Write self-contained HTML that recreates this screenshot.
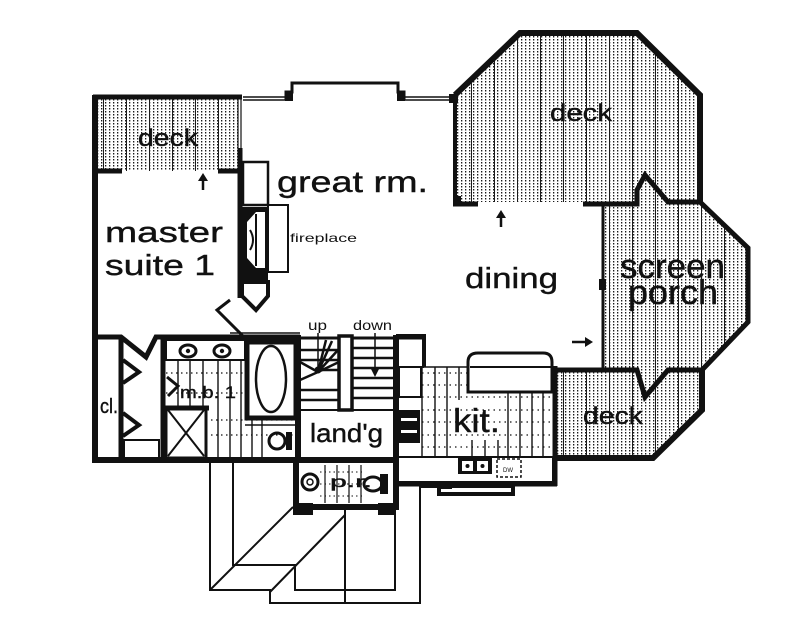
<!DOCTYPE html>
<html><head><meta charset="utf-8"><style>
html,body{margin:0;padding:0;background:#fff;}
svg{display:block;}
text{font-family:"Liberation Sans",sans-serif;fill:#111;}
.t{stroke:#111;stroke-width:0.4;}
</style></head><body>
<svg width="800" height="620" viewBox="0 0 800 620" xmlns="http://www.w3.org/2000/svg">
<defs>
<pattern id="h" width="4" height="3" patternUnits="userSpaceOnUse"><rect x="1" y="0" width="1.3" height="1.5" fill="#1a1a1a"/></pattern>
<pattern id="v" width="23" height="10" patternUnits="userSpaceOnUse"><rect x="11" y="0" width="1" height="10" fill="#1a1a1a"/></pattern>
</defs>
<rect width="800" height="620" fill="#fff"/>

<g>
<polygon points="95,97 240,97 240,171 95,171" fill="url(#h)"/>
<polygon points="95,97 240,97 240,171 95,171" fill="url(#v)"/>
<polygon points="455,95 520,33 637,33 700,95 700,202 668,202 645,175 637,190 637,202 455,202" fill="url(#h)"/>
<polygon points="455,95 520,33 637,33 700,95 700,202 668,202 645,175 637,190 637,202 455,202" fill="url(#v)"/>
<polygon points="603,202 637,202 637,190 645,175 668,202 700,202 748,248 748,322 702,370 668,370 645,397 637,370 603,370" fill="url(#h)"/>
<polygon points="603,202 637,202 637,190 645,175 668,202 700,202 748,248 748,322 702,370 668,370 645,397 637,370 603,370" fill="url(#v)"/>
<polygon points="555,370 637,370 645,397 668,370 702,370 702,410 653,458 555,458" fill="url(#h)"/>
<polygon points="555,370 637,370 645,397 668,370 702,370 702,410 653,458 555,458" fill="url(#v)"/>
</g>

<g stroke="#111" fill="none" stroke-linejoin="miter">
<path d="M93,97 H242" stroke-width="5"/>
<path d="M95,95 V463" stroke-width="6"/>
<path d="M238,97 V148 M241,97 V148" stroke-width="1.2"/>
<path d="M93,171 H122 M218,171 H243" stroke-width="5"/>
<path d="M240,148 V298" stroke-width="5"/>
<path d="M230,300 L217,310 L243,336" stroke-width="3"/>

<path d="M243,97 H286 M243,100 H286" stroke-width="1.4"/>
<path d="M286,100 V92 H292 V83 H398 V92 H404 V100" stroke-width="3"/>
<path d="M404,97 H450 M404,100 H450" stroke-width="1.4"/>
<path d="M455,95 V205" stroke-width="4"/>

<path d="M455,95 L520,33 H637 L700,95 V204" stroke-width="6"/>
<path d="M453,204 H478 M583,204 H605" stroke-width="5"/>

<path d="M603,204 H637 V190 L645,175 L668,202 H700 L748,248 V322 L702,370 H668 L645,397 L637,370 H553" stroke-width="5"/>
<path d="M603,204 V370" stroke-width="3"/>

<path d="M702,370 V410 L653,458 H553" stroke-width="6"/>
<path d="M555,366 V486" stroke-width="5"/>

<path d="M93,337 H121 L146,357 L156,337 H300" stroke-width="5"/>
<path d="M230,333 H300" stroke-width="1.5"/>

<path d="M163,337 V461" stroke-width="5"/>
<path d="M121,338 V459" stroke-width="5"/>
<path d="M123,360 L139,372 L123,383 M123,413 L139,425 L123,436" stroke-width="4"/>
<rect x="124" y="440" width="35" height="18" stroke-width="2"/>
<path d="M93,460 H300" stroke-width="6"/>
<path d="M178,360 V408 M190,360 V408 M203,360 V408 M218,360 V458 M230,360 V458 M241,360 V458 M252,418 V458 M262,418 V458" stroke-width="1.4"/>
<path d="M166,373 H245 M166,393 H245 M206,420 H297 M206,435 H297" stroke-width="1.2" stroke-dasharray="1.5 3.5"/>
<path d="M245,425 H297" stroke-width="1.5"/>
<rect x="166" y="340" width="79" height="20" stroke-width="2" fill="#fff"/>
<ellipse cx="188" cy="351" rx="8" ry="6" stroke-width="3"/>
<ellipse cx="222" cy="351" rx="8" ry="6" stroke-width="3"/>
<rect x="166" y="408" width="40" height="50" stroke-width="3" fill="#fff"/>
<path d="M161,408 H209" stroke-width="5"/>
<path d="M168,410 L204,456 M204,410 L168,456" stroke-width="2"/>
<path d="M167,377 L178,386 L168,396" stroke-width="3"/>
<rect x="247" y="342" width="49" height="76" stroke-width="5" fill="#fff"/>
<ellipse cx="271" cy="379" rx="15" ry="33" stroke-width="2.5"/>
<ellipse cx="277" cy="441" rx="8" ry="8" stroke-width="3"/>
<path d="M298,335 V508" stroke-width="6"/>

<rect x="243" y="162" width="25" height="43" stroke-width="2.5" fill="#fff"/>
<rect x="268" y="205" width="20" height="67" stroke-width="2" fill="#fff"/>
<polygon points="242,282 268,282 268,296 256,310 242,296" stroke-width="4" fill="#fff"/>

<path d="M298,338 H425" stroke-width="3"/>
<path d="M300,350 H339 M300,360 H339 M322,370 H339 M300,390 H339 M300,400 H339" stroke-width="2.5"/>
<path d="M352,348 H394 M352,358 H394 M352,368 H394 M352,378 H394 M352,388 H394 M352,398 H394" stroke-width="2.5"/>
<path d="M318,372 L300,362 M318,372 L300,380 M318,372 L338,350 M318,372 L332,341 M318,372 L326,340 M318,372 L339,362" stroke-width="2.5"/>
<path d="M318,333 V370" stroke-width="1.5"/>
<path d="M375,333 V374" stroke-width="1.5"/>
<path d="M298,410 H396" stroke-width="2"/>
<rect x="339" y="336" width="13" height="74" stroke-width="3.5" fill="#fff"/>
<path d="M396,335 V510" stroke-width="6"/>

<path d="M396,336 H424 V367" stroke-width="4"/>
<path d="M398,367 H424" stroke-width="2"/>
<rect x="399" y="367" width="22" height="30" stroke-width="2"/>
<path d="M422,367 V457 M422,367 H470" stroke-width="1.4"/>
<path d="M435,367 V457 M447,367 V457 M459,367 V400 M508,392 V457 M520,392 V457 M532,392 V457 M543,392 V457 M472,440 V457 M485,440 V457 M498,440 V457" stroke-width="1.4"/>
<path d="M422,373 H468 M422,385 H468 M422,397 H552 M422,410 H552 M422,422 H552 M422,435 H552 M422,447 H552" stroke-width="1.2" stroke-dasharray="1.5 4"/>
<path d="M468,392 V362 Q468,353 478,353 H543 Q552,353 552,362 V392 Z" stroke-width="3" fill="#fff"/>
<path d="M470,367 H552" stroke-width="2"/>
<rect x="397" y="457" width="156" height="25" stroke-width="2" fill="#fff"/>
<path d="M393,484 H557" stroke-width="5"/>
<rect x="497" y="459" width="24" height="18" stroke-width="1.5" stroke-dasharray="3 2"/>
<rect x="439" y="486" width="74" height="8" stroke-width="4" fill="#fff"/>

<rect x="296" y="460" width="100" height="47" stroke-width="6" fill="#fff"/>
<path d="M325,465 V503 M337,465 V503 M349,465 V503 M361,465 V503" stroke-width="1.2"/>
<path d="M320,472 H365 M320,484 H365 M320,496 H365" stroke-width="1" stroke-dasharray="1.5 3"/>
<circle cx="310" cy="482" r="8" stroke-width="3" fill="#fff"/>
<circle cx="310" cy="482" r="3" stroke-width="1.5"/>
<ellipse cx="373" cy="484" rx="9" ry="7" stroke-width="3" fill="#fff"/>

<path d="M210,460 V590 H270 V603 H420 V487 H440 M233,460 V565 H295 V590 H395 V507 M210,590 L293,507 M270,592 L345,515 M345,507 V603" stroke-width="2"/>
</g>

<g fill="#111">
<rect x="285" y="91" width="8" height="10"/>
<rect x="397" y="91" width="8" height="10"/>
<rect x="449" y="94" width="9" height="9"/>
<rect x="453" y="196" width="8" height="10"/>
<rect x="599" y="279" width="7" height="11"/>
<rect x="242" y="207" width="26" height="75"/>
<rect x="293" y="503" width="20" height="12"/>
<rect x="378" y="503" width="18" height="12"/>
<rect x="380" y="474" width="8" height="20"/>
<rect x="286" y="432" width="6" height="18"/>
<circle cx="188" cy="351" r="2.2"/>
<circle cx="222" cy="351" r="2.2"/>
<circle cx="318" cy="370" r="3.5"/>
<polygon points="371,369 379,369 375,377"/>
<rect x="398" y="410" width="22" height="33"/>
<rect x="458" y="458" width="34" height="16"/>
<rect x="438" y="483" width="14" height="6"/>
<polygon points="198,181 203,173 208,181"/>
<polygon points="496,218 501,210 506,218"/>
<polygon points="585,337 593,342 585,347"/>
</g>
<g fill="#fff">
<polygon points="247,222 256,212 265,212 265,268 256,268 247,258"/>
<rect x="401" y="418" width="16" height="3"/>
<rect x="401" y="430" width="16" height="3"/>
<rect x="462" y="461" width="11" height="10"/>
<rect x="477" y="461" width="11" height="10"/>
</g>
<path d="M250,230 Q256,240 250,250 M256,214 V266" stroke="#111" stroke-width="2" fill="none"/>
<g fill="#111">
<circle cx="467.5" cy="466" r="2"/>
<circle cx="482.5" cy="466" r="2"/>
</g>
<path d="M203,190 V178 M501,227 V214 M572,342 H588" stroke="#111" stroke-width="2.5" fill="none"/>

<text class="t" x="138" y="146" font-size="24" textLength="60" lengthAdjust="spacingAndGlyphs">deck</text>
<text class="t" x="550" y="121" font-size="24" textLength="62" lengthAdjust="spacingAndGlyphs">deck</text>
<text class="t" x="277" y="192" font-size="30" textLength="151" lengthAdjust="spacingAndGlyphs">great rm.</text>
<text class="t" x="105" y="242" font-size="29" textLength="118" lengthAdjust="spacingAndGlyphs">master</text>
<text class="t" x="105" y="275" font-size="29" textLength="110" lengthAdjust="spacingAndGlyphs">suite 1</text>
<text x="290" y="242" font-size="12" textLength="67" lengthAdjust="spacingAndGlyphs">fireplace</text>
<text class="t" x="465" y="288" font-size="29" textLength="93" lengthAdjust="spacingAndGlyphs">dining</text>
<text class="t" x="620" y="278" font-size="34" textLength="105" lengthAdjust="spacingAndGlyphs">screen</text>
<text class="t" x="628" y="304" font-size="34" textLength="90" lengthAdjust="spacingAndGlyphs">porch</text>
<text class="t" x="583" y="424" font-size="24" textLength="60" lengthAdjust="spacingAndGlyphs">deck</text>
<text x="308" y="330" font-size="14" textLength="19" lengthAdjust="spacingAndGlyphs">up</text>
<text x="353" y="330" font-size="14" textLength="39" lengthAdjust="spacingAndGlyphs">down</text>
<text class="t" x="100" y="413" font-size="20" textLength="18" lengthAdjust="spacingAndGlyphs">cl.</text>
<text class="t" x="180" y="398" font-size="17" textLength="56" lengthAdjust="spacingAndGlyphs">m.b. 1</text>
<text class="t" x="310" y="442" font-size="26" textLength="73" lengthAdjust="spacingAndGlyphs">land'g</text>
<text class="t" x="330" y="487" font-size="16" textLength="42" lengthAdjust="spacingAndGlyphs">p.r.</text>
<text class="t" x="453" y="432" font-size="33" textLength="47" lengthAdjust="spacingAndGlyphs">kit.</text>
<text x="503" y="472" font-size="6">DW</text>
</svg>
</body></html>
